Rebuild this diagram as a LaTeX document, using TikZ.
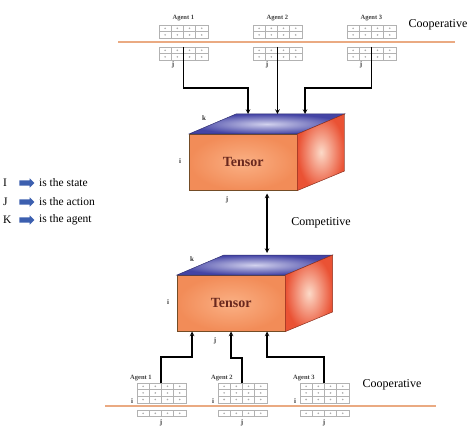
\documentclass[tikz,border=0pt]{standalone}
\usepackage{fontspec}
\setmainfont{Liberation Serif}
\usetikzlibrary{calc,shapes.arrows}

\definecolor{coop}{RGB}{234,170,130}
\definecolor{facefront}{RGB}{242,140,88}
\definecolor{facelight}{RGB}{250,176,132}
\definecolor{topblue}{RGB}{68,68,165}
\definecolor{toplight}{RGB}{210,210,238}
\definecolor{sidered}{RGB}{234,82,52}
\definecolor{sidelight}{RGB}{252,218,200}
\definecolor{tensortext}{RGB}{105,40,30}
\definecolor{legblue}{RGB}{60,95,175}

\tikzset{
  cell/.style={draw=gray!60, line width=0.4pt},
  cellmark/.style={fill=gray!65},
  conn/.style={line width=1.1pt},
  coopline/.style={draw=coop, line width=1.6pt},
  frontface/.style={draw=brown!60!black, line width=0.5pt, shading=radial, inner color=facelight, outer color=facefront,
    minimum width=108pt, minimum height=56pt, inner sep=0pt, anchor=north west,
    font=\fontsize{14}{14}\selectfont\bfseries, text=tensortext},
  topface/.style={draw=topblue!70!black, line width=0.5pt, shading=radial, inner color=toplight, outer color=topblue},
  sideface/.style={draw=sidered!60!black, line width=0.5pt, shading=radial, inner color=sidelight, outer color=sidered},
  axislbl/.style={font=\fontsize{7}{7}\selectfont\bfseries, text=black!80, inner sep=0pt},
  agentlbl/.style={font=\fontsize{6.5}{6.5}\selectfont\bfseries, text=black!75, inner sep=0pt},
  bigtext/.style={font=\fontsize{12}{12}\selectfont},
  legtext/.style={font=\fontsize{11.5}{11.5}\selectfont, inner sep=0pt},
  legarrow/.style={single arrow, fill=legblue, minimum height=15pt, inner sep=2.4pt,
    single arrow head extend=2pt},
}

% block of 4 columns, #3 rows, top left at (#1,#2)
\newcommand{\cellblock}[3]{%
  \foreach \r in {1,...,#3}{
    \foreach \c in {1,...,4}{
      \draw[cell] ({#1+(\c-1)*12.2},{#2+(\r-1)*6.6}) rectangle ++(12.2,6.6);
      \fill[cellmark] ({#1+(\c-0.5)*12.2},{#2+(\r-0.5)*6.6}) circle (0.9);
    }}}

\begin{document}
\begin{tikzpicture}[x=1pt,y=-1pt]
    \useasboundingbox (0,0) rectangle (474,433);

    \draw[coopline] (118,42) -- (455,42);
    \draw[coopline] (105,406) -- (436,406);

    % agents above
    \foreach \n/\x in {1/159,2/253,3/347}{
        \cellblock{\x}{25}{2}
        \cellblock{\x}{47}{2}
        \node[agentlbl] (tlab\n) at (\x+24.4,18) {Agent \n};
        \node[axislbl] (tj\n) at (\x+14,65) {j};
        \coordinate (ta\n) at (\x+24.4,47);
    }

    % agents below
    \foreach \n/\x in {1/137,2/218,3/300}{
        \cellblock{\x}{383}{3}
        \cellblock{\x}{410}{1}
        \node[agentlbl, anchor=south west] (blab\n) at (\x-7,381) {Agent \n};
        \node[axislbl] (bi\n) at (\x-5,401) {i};
        \node[axislbl] (bj\n) at (\x+24,423) {j};
        \coordinate (ba\n) at (\x+24,383);
    }

    % the two tensors
    \foreach \nm/\x/\y in {top/189/134, bot/177/275}{
        \node[frontface] (\nm) at (\x,\y) {Tensor};
        \coordinate (\nm-bk) at ($(\nm.north west)+(47,-20)$);
        \draw[topface] (\nm.north west) -- (\nm.north east) -- ++(47,-20) -- (\nm-bk) -- cycle;
        \draw[sideface] (\nm.north east) -- ++(47,-20) -- ++(0,57) -- (\nm.south east) -- cycle;
        \node[axislbl] (\nm-k) at ($(\nm.north west)+(15,-16)$) {k};
        \node[axislbl] (\nm-i) at ($(\nm.north west)+(-9,27)$) {i};
        \node[axislbl] (\nm-j) at ($(\nm.south west)+(38,9)$) {j};
    }

    \draw[conn,-stealth] (ta1) -- ++(0,41) -| ($(top-bk)+(12,0)$);
    \draw[conn,-stealth] (ta2) -- (ta2 |- top-bk);
    \draw[conn,-stealth] (ta3) -- ++(0,41) -| ($(top-bk)+(69,0)$);
    \draw[conn,stealth-stealth] ($(top.south west)+(78,3)$) -- ($(bot-bk)+(43,-2)$);
    \draw[conn,-stealth] (ba1) -- ++(0,-26) -| ($(bot.south west)+(15,0)$);
    \draw[conn,-stealth] (ba2) -- ++(0,-25) -| ($(bot.south west)+(54,0)$);
    \draw[conn,-stealth] (ba3) -- ++(0,-26) -| ($(bot.south west)+(90,0)$);

    \node[bigtext] (coop1) at (438,25) {Cooperative};
    \node[bigtext] (coop2) at (392,385) {Cooperative};
    \node[bigtext] (comp) at (321,223) {Competitive};

    % key
    \foreach \n/\l/\t/\y in {1/I/state/183, 2/J/action/202, 3/K/agent/220}{
        \node[legtext, anchor=west] (key\n) at (3,\y) {\l};
        \node[legarrow] (arr\n) at (25.5,\y) {};
        \node[legtext, anchor=west] (desc\n) at (39,\y) {is the \t};
    }
\end{tikzpicture}
\end{document}
